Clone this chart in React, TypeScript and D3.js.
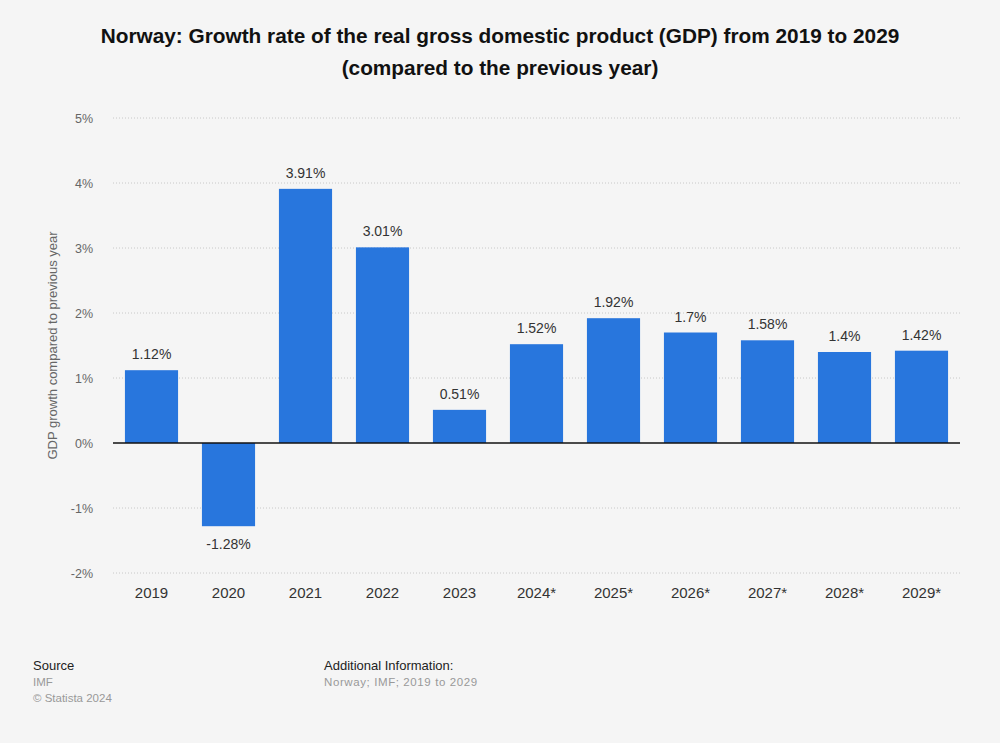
import React from "react";
import * as d3 from "d3";

const years = ["2019", "2020", "2021", "2022", "2023", "2024*", "2025*", "2026*", "2027*", "2028*", "2029*"];
const growth = [1.12, -1.28, 3.91, 3.01, 0.51, 1.52, 1.92, 1.7, 1.58, 1.4, 1.42];
const valueLabels = ["1.12%", "-1.28%", "3.91%", "3.01%", "0.51%", "1.52%", "1.92%", "1.7%", "1.58%", "1.4%", "1.42%"];
const yTicks = [-2, -1, 0, 1, 2, 3, 4, 5];

export default function App() {
  const width = 1000;
  const height = 743;
  const left = 113;
  const right = 960;
  const top = 118;
  const bottom = 573;

  const x = d3.scaleBand().domain(years).range([left, right]).paddingInner(0.31).paddingOuter(0.155);
  const y = d3.scaleLinear().domain([-2, 5]).range([bottom, top]);
  const font = "Helvetica, Arial, 'Liberation Sans', sans-serif";

  return (
    <svg width={width} height={height} style={{ position: "absolute", left: 0, top: 0, background: "#f5f5f5" }} fontFamily={font}>
      <rect x={0} y={0} width={width} height={height} fill="#f5f5f5" />
      <text x={500} y={43} textAnchor="middle" fontSize={20.8} fontWeight="bold" fill="#111">
        Norway: Growth rate of the real gross domestic product (GDP) from 2019 to 2029
      </text>
      <text x={500} y={75} textAnchor="middle" fontSize={20.8} fontWeight="bold" fill="#111">
        (compared to the previous year)
      </text>

      {yTicks.map((t) => (
        <g key={t}>
          {t !== 0 && (
            <line x1={left} x2={right} y1={y(t)} y2={y(t)} stroke="#c8c8c8" strokeDasharray="1,2" strokeWidth={1} />
          )}
          <text x={93} y={y(t) + 4.5} textAnchor="end" fontSize={12.5} fill="#666">
            {t}%
          </text>
        </g>
      ))}

      <text transform={`translate(57,${y(1.5)}) rotate(-90)`} textAnchor="middle" fontSize={13} fill="#666">
        GDP growth compared to previous year
      </text>

      {years.map((yr, i) => {
        const v = growth[i];
        const x0 = x(yr) as number;
        const yTop = y(Math.max(0, v));
        const h = Math.abs(y(v) - y(0));
        const cx = x0 + x.bandwidth() / 2;
        return (
          <g key={yr}>
            <rect x={x0} y={yTop} width={x.bandwidth()} height={h} fill="#2876dd" />
            <text
              x={cx}
              y={v >= 0 ? y(v) - 11 : y(v) + 23}
              textAnchor="middle"
              fontSize={14}
              fill="#333"
            >
              {valueLabels[i]}
            </text>
            <text x={cx} y={598} textAnchor="middle" fontSize={15} fill="#333">
              {yr}
            </text>
          </g>
        );
      })}

      <line x1={left} x2={right} y1={y(0)} y2={y(0)} stroke="#111" strokeWidth={1.5} />

      <text x={33} y={670} fontSize={13} fill="#222">Source</text>
      <text x={33} y={686} fontSize={11.5} fill="#999">IMF</text>
      <text x={33} y={702} fontSize={11.5} fill="#999">© Statista 2024</text>
      <text x={324} y={670} fontSize={13} fill="#222">Additional Information:</text>
      <text x={324} y={686} fontSize={11.5} fill="#999" letterSpacing={0.6}>Norway; IMF; 2019 to 2029</text>
    </svg>
  );
}
